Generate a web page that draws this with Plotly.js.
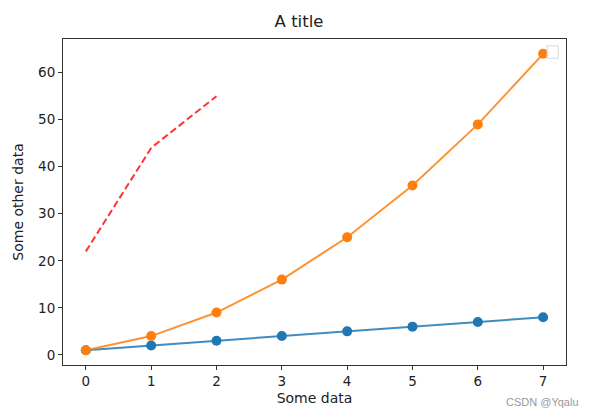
<!DOCTYPE html>
<html>
<head>
<meta charset="utf-8">
<script src="https://cdn.plot.ly/plotly-3.0.1.min.js"></script>
<style>html,body{margin:0;padding:0;background:#fff;}#chart{width:598px;height:418px;}</style>
</head>
<body>
<div id="chart"></div>
<script>
const xValues = [0, 1, 2, 3, 4, 5, 6, 7];
const linearValues = [1, 2, 3, 4, 5, 6, 7, 8];
const squareValues = [1, 4, 9, 16, 25, 36, 49, 64];
const redX = [0, 1, 2];
const redValues = [22, 44, 55];
const xTicks = [0, 1, 2, 3, 4, 5, 6, 7];
const yTicks = [0, 10, 20, 30, 40, 50, 60];

const font = 'DejaVu Sans, sans-serif';
const traces = [
  {x: redX, y: redValues, mode: 'lines', line: {color: '#ff0000', width: 2, dash: '7px,3.5px'}, opacity: 0.8, hoverinfo: 'skip'},
  {x: xValues, y: linearValues, mode: 'lines', line: {color: '#1f77b4', width: 2}, opacity: 0.85},
  {x: xValues, y: squareValues, mode: 'lines', line: {color: '#ff7f0e', width: 2}, opacity: 0.85},
  {x: xValues, y: linearValues, mode: 'markers', marker: {color: '#1f77b4', size: 10}},
  {x: xValues, y: squareValues, mode: 'markers', marker: {color: '#ff7f0e', size: 10}}
];
const axisCommon = {
  showgrid: false, zeroline: false, showline: true, mirror: true,
  linecolor: '#333', linewidth: 1, ticks: 'outside', ticklen: 4, tickwidth: 1, tickcolor: '#333',
  tickfont: {family: font, size: 13.5, color: '#222'}
};
const layout = {
  width: 598, height: 418,
  margin: {l: 63, r: 32, t: 38.5, b: 52.5},
  paper_bgcolor: '#fff', plot_bgcolor: '#fff',
  showlegend: false,
  title: {text: 'A title', font: {family: font, size: 16.5, color: '#222'}, x: 0.5, xanchor: 'center', y: 1, yref: 'container', yanchor: 'top', pad: {t: 15}},
  xaxis: Object.assign({}, axisCommon, {range: [-0.35, 7.35], tickvals: xTicks,
    title: {text: 'Some data', font: {family: font, size: 14, color: '#222'}, standoff: 4}}),
  yaxis: Object.assign({}, axisCommon, {range: [-2.15, 67.15], tickvals: yTicks,
    title: {text: 'Some other data', font: {family: font, size: 14, color: '#222'}, standoff: 11}}),
  shapes: [
    {type: 'rect', xref: 'paper', yref: 'paper', x0: 0.9625, x1: 0.9845, y0: 0.941, y1: 0.979,
     line: {color: '#d8d8d8', width: 1}, fillcolor: 'rgba(255,255,255,0.8)'}
  ],
  annotations: [
    {text: 'CSDN @Yqalu', xref: 'paper', yref: 'paper', x: 1.0, y: -0.115, xanchor: 'right', yanchor: 'middle',
     xshift: 15, showarrow: false, font: {family: 'Liberation Sans, Arial, sans-serif', size: 11, color: '#999'}}
  ]
};
Plotly.newPlot('chart', traces, layout, {staticPlot: true, displayModeBar: false});
</script>
</body>
</html>
